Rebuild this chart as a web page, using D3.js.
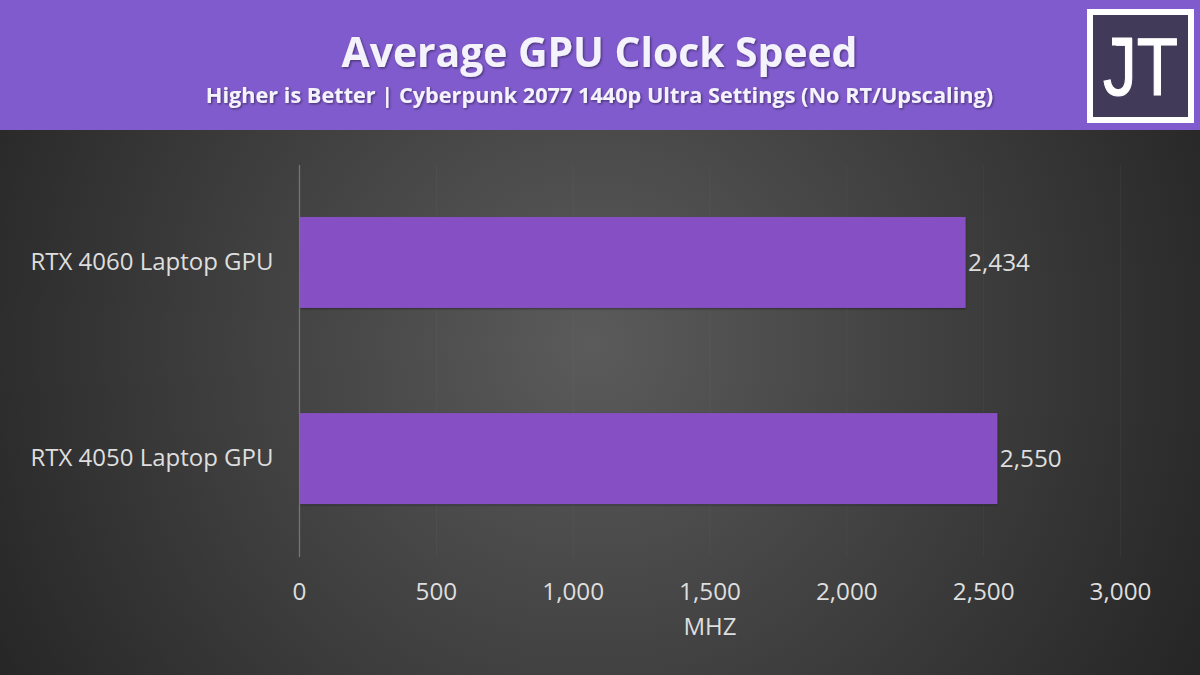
<!DOCTYPE html>
<html>
<head>
  <meta charset="UTF-8">
  <title>Average GPU Clock Speed</title>
  <style>
    html, body { margin: 0; padding: 0; background: #2b2b2b; overflow: hidden; }
    svg { display: block; font-family: "Open Sans", sans-serif; }
  </style>
</head>
<body>
  <svg></svg>
  <script src="https://d3js.org/d3.v7.min.js"></script>
  <script>
    const titleText = "Average GPU Clock Speed";
    const subtitleText = "Higher is Better | Cyberpunk 2077 1440p Ultra Settings (No RT/Upscaling)";
    const logoText = "JT";
    const axisLabel = "MHZ";
    const categories = ["RTX 4060 Laptop GPU", "RTX 4050 Laptop GPU"];
    const values = [2434, 2550];
    const xTicks = [0, 500, 1000, 1500, 2000, 2500, 3000];

    let width = 1200, height = 675;
    let svg = d3.select("svg").attr("width", width).attr("height", height);

    let defs = svg.append("defs");
    let bg = defs.append("radialGradient").attr("id", "bg")
        .attr("gradientUnits", "userSpaceOnUse")
        .attr("cx", 590).attr("cy", 345).attr("r", 680);
    bg.append("stop").attr("offset", "0%").attr("stop-color", "#5b5b5b");
    bg.append("stop").attr("offset", "100%").attr("stop-color", "#262626");

    let shadow = defs.append("filter").attr("id", "textShadow")
        .attr("x", "-5%").attr("y", "-20%").attr("width", "110%").attr("height", "140%");
    shadow.append("feDropShadow").attr("dx", 1.2).attr("dy", 1.2)
        .attr("stdDeviation", 0.9).attr("flood-color", "#000").attr("flood-opacity", 0.45);

    let barShadow = defs.append("filter").attr("id", "barShadow")
        .attr("x", "-2%").attr("y", "-5%").attr("width", "104%").attr("height", "112%");
    barShadow.append("feDropShadow").attr("dx", 0).attr("dy", 1)
        .attr("stdDeviation", 1).attr("flood-color", "#000").attr("flood-opacity", 0.4);

    svg.append("rect").attr("width", width).attr("height", height).attr("fill", "url(#bg)");

    // header band
    svg.append("rect").attr("width", width).attr("height", 130).attr("fill", "#805bcd");
    svg.append("text").attr("x", 599.5).attr("y", 67)
        .attr("text-anchor", "middle").attr("fill", "#f4f2fa")
        .attr("font-size", 40.8).attr("font-weight", 700)
        .attr("filter", "url(#textShadow)")
        .text(titleText);
    svg.append("text").attr("x", 599.5).attr("y", 102.5)
        .attr("text-anchor", "middle").attr("fill", "#f4f2fa")
        .attr("font-size", 21.7).attr("font-weight", 700)
        .attr("filter", "url(#textShadow)")
        .text(subtitleText);

    // logo
    svg.append("rect").attr("x", 1090).attr("y", 12).attr("width", 101).attr("height", 108)
        .attr("fill", "#413a58").attr("stroke", "#fff").attr("stroke-width", 6);
    let logo = svg.append("g").attr("fill", "#fff").attr("stroke", "#fff").attr("stroke-width", 1.2)
        .attr("font-family", "'Liberation Sans', sans-serif").attr("font-size", 81);
    logo.append("text").attr("x", 1103).attr("y", 95)
        .attr("textLength", 75).attr("lengthAdjust", "spacingAndGlyphs").text(logoText);
    // top bar of the J
    logo.append("rect").attr("x", 1112).attr("y", 37.5).attr("width", 20).attr("height", 8).attr("stroke", "none");

    // chart
    let x = d3.scaleLinear().domain([0, 3000]).range([299.5, 1120.5]);
    let y = d3.scaleBand().domain(categories).range([165, 556]).paddingInner(0.536).paddingOuter(0.265);

    svg.append("g").selectAll("line").data(xTicks.slice(1)).enter().append("line")
        .attr("x1", d => x(d)).attr("x2", d => x(d))
        .attr("y1", 165).attr("y2", 557)
        .attr("stroke", "#fff").attr("stroke-opacity", 0.035);

    svg.append("g").selectAll("rect").data(values).enter().append("rect")
        .attr("x", x(0))
        .attr("y", (d, i) => y(categories[i]))
        .attr("width", d => x(d) - x(0))
        .attr("height", y.bandwidth())
        .attr("fill", "#8650c3")
        .attr("filter", "url(#barShadow)");

    svg.append("line").attr("x1", x(0)).attr("x2", x(0))
        .attr("y1", 165).attr("y2", 557)
        .attr("stroke", "#757575").attr("stroke-width", 1.3);

    let textColor = "#dedede";

    svg.append("g").selectAll("text").data(values).enter().append("text")
        .attr("x", d => x(d) + 2.5)
        .attr("y", (d, i) => y(categories[i]) + y.bandwidth() / 2 + 8.5)
        .attr("fill", textColor).attr("font-size", 24.3)
        .text(d => d3.format(",")(d));

    svg.append("g").selectAll("text").data(categories).enter().append("text")
        .attr("x", 273.5)
        .attr("y", d => y(d) + y.bandwidth() / 2 + 7.5)
        .attr("text-anchor", "end")
        .attr("fill", textColor).attr("font-size", 24)
        .text(d => d);

    svg.append("g").selectAll("text").data(xTicks).enter().append("text")
        .attr("x", d => x(d))
        .attr("y", 600)
        .attr("text-anchor", "middle")
        .attr("fill", textColor).attr("font-size", 24.3)
        .text(d => d3.format(",")(d));

    svg.append("text").attr("x", 710).attr("y", 635)
        .attr("text-anchor", "middle")
        .attr("fill", textColor).attr("font-size", 24)
        .text(axisLabel);
  </script>
</body>
</html>
